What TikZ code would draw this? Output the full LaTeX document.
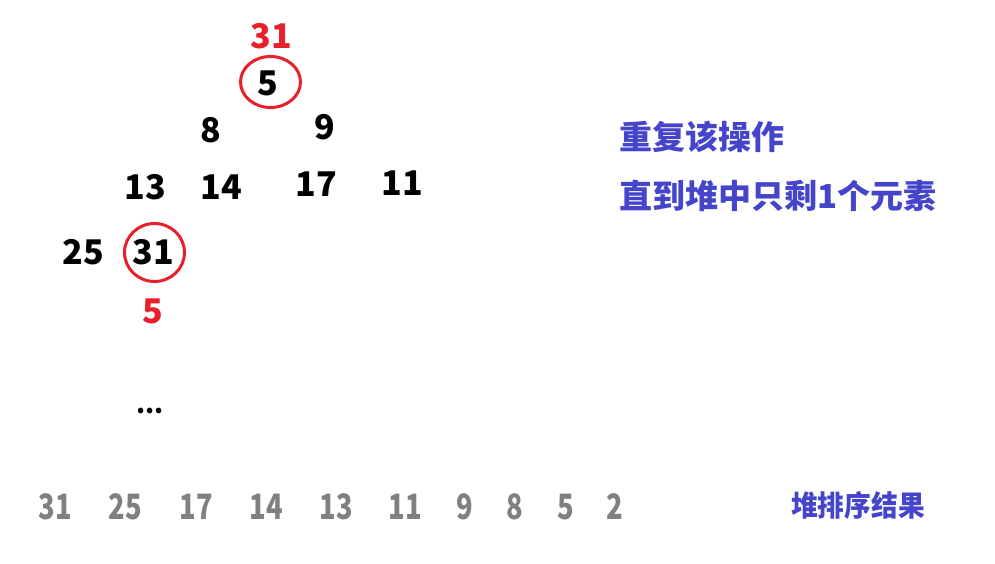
\documentclass[tikz,border=0pt]{standalone}
\usepackage{fontspec}
\newfontfamily\cjk{Noto Sans CJK SC}
\definecolor{hred}{HTML}{E8202A}
\definecolor{hblue}{HTML}{4545CC}
\definecolor{hgray}{HTML}{808080}
\tikzset{
  num/.style={inner sep=0pt, font=\cjk\bfseries\fontsize{34}{36}\selectfont, text=black},
  rednum/.style={num, text=hred},
  graynum/.style={inner sep=0pt, font=\cjk\bfseries\fontsize{35}{38}\selectfont, text=hgray, xscale=0.78},
  note/.style={inner sep=0pt, anchor=west, font=\cjk\bfseries\fontsize{33}{36}\selectfont, text=hblue},
  ring/.style={draw=hred, line width=3pt}
}
\begin{document}
\begin{tikzpicture}[x=1pt,y=-1pt]
\useasboundingbox (0,0) rectangle (995,564);
% top
\node[rednum] (r31) at (271,36) {31};
\draw[ring] (270.5,82) ellipse [x radius=30, y radius=25.5];
\node[num] (n5) at (268,83) {5};
\node[num] (n8) at (211,130) {8};
\node[num] (n9) at (325,127) {9};
\node[num] (n13) at (145,187) {13};
\node[num] (n14) at (221,187) {14};
\node[num] (n17) at (316,184) {17};
\node[num] (n11) at (402,183) {11};
\node[num] (n25) at (83,252) {25};
\draw[ring] (154.5,252.5) ellipse [x radius=30, y radius=29];
\node[num] (n31) at (153,252) {31};
\node[rednum] (r5) at (153,311) {5};
\node[inner sep=0pt, font=\cjk\bfseries\fontsize{26}{28}\selectfont] (dots) at (150,411) {...};
% right notes
\node[note] (t1) at (619,137) {重复该操作};
\node[note] (t2) at (619,196) {直到堆中只剩1个元素};
% bottom row
\node[graynum] (b1) at (55,507) {31};
\node[graynum] (b2) at (125,507) {25};
\node[graynum] (b3) at (196,507) {17};
\node[graynum] (b4) at (266,507) {14};
\node[graynum] (b5) at (336,507) {13};
\node[graynum] (b6) at (405,507) {11};
\node[graynum] (b7) at (465,507) {9};
\node[graynum] (b8) at (515,507) {8};
\node[graynum] (b9) at (566,507) {5};
\node[graynum] (b10) at (615,507) {2};
\node[inner sep=0pt, font=\cjk\bfseries\fontsize{29}{32}\selectfont, text=hblue, xscale=0.92] (res) at (858,505) {堆排序结果};
\end{tikzpicture}
\end{document}
